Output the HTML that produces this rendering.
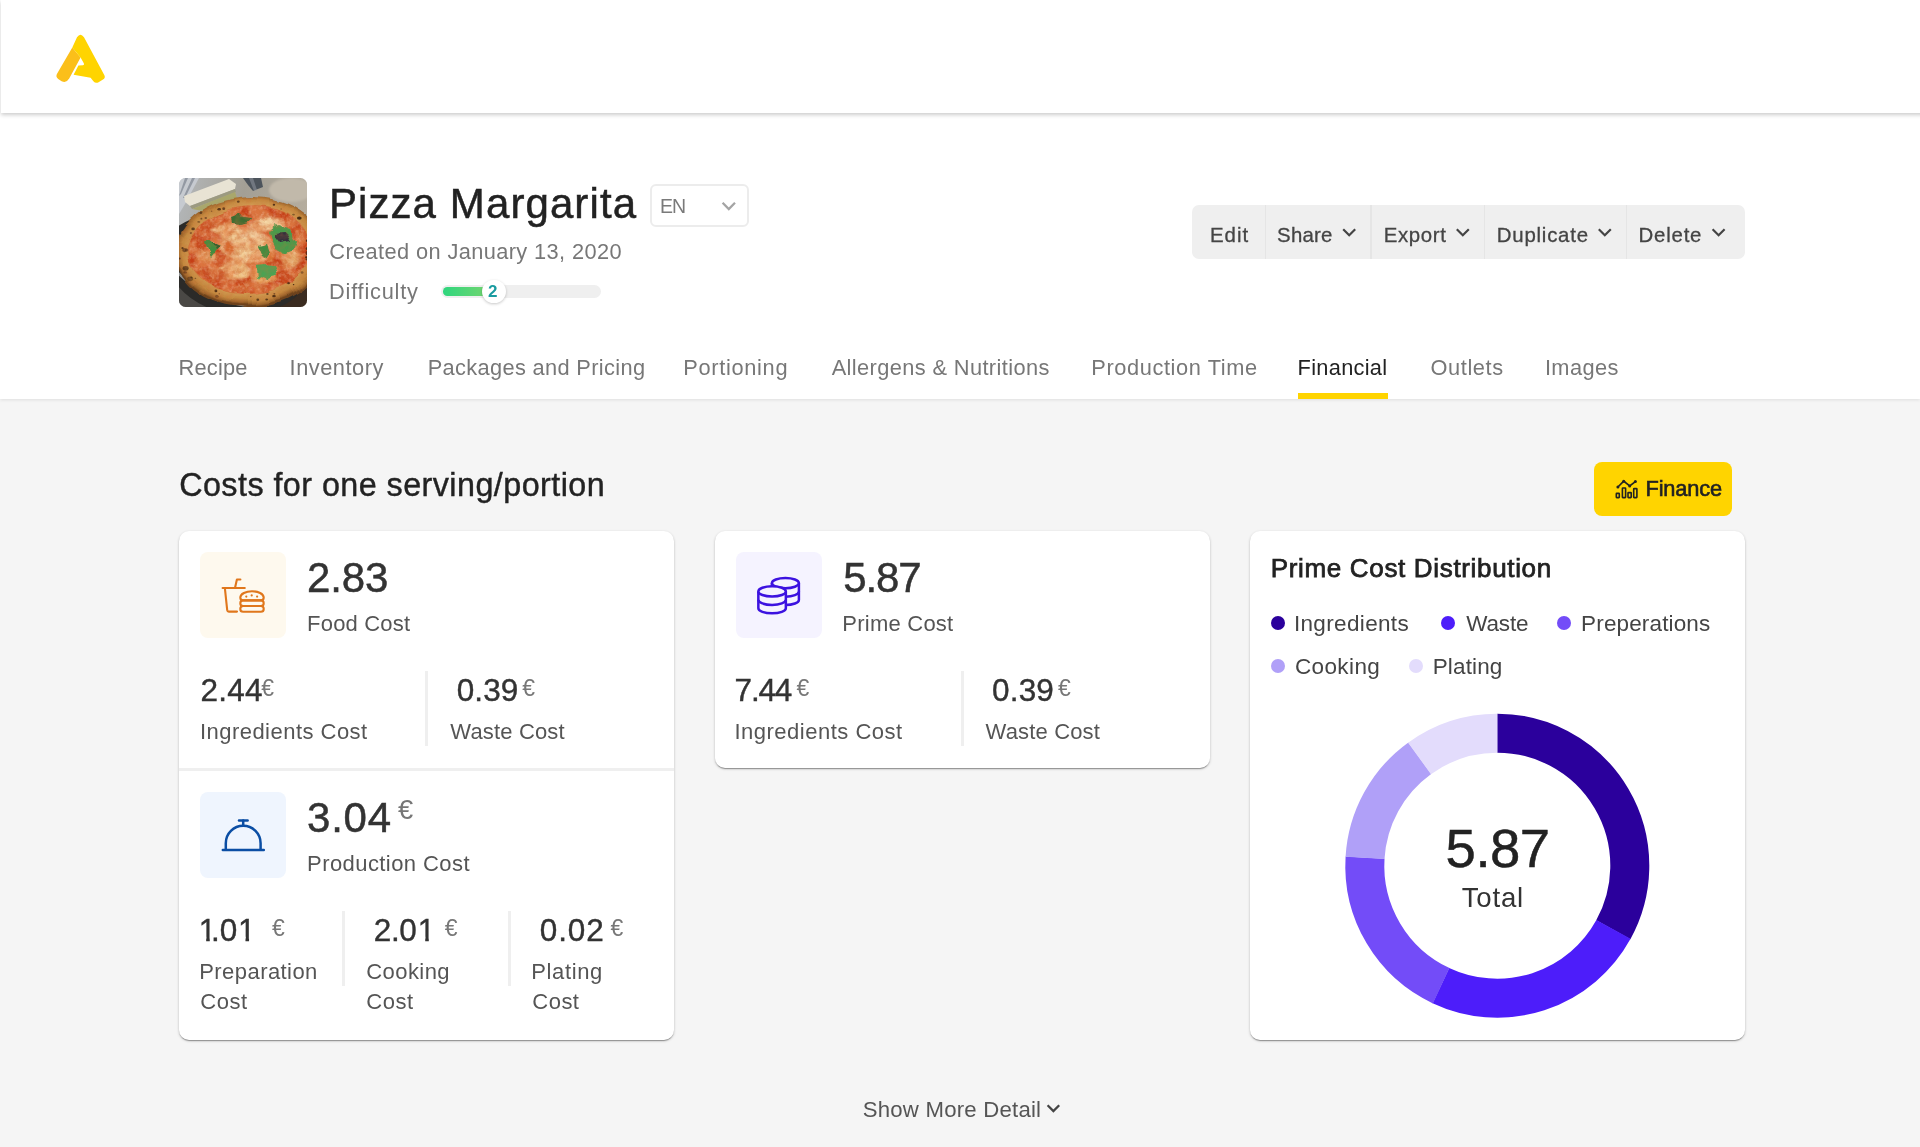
<!DOCTYPE html>
<html lang="en">
<head>
<meta charset="utf-8">
<title>Pizza Margarita – Financial</title>
<style>
html,body{margin:0;padding:0;}
body{width:1920px;height:1147px;position:relative;overflow:hidden;background:#f5f5f5;font-family:"Liberation Sans",sans-serif;}
.abs{position:absolute;}
.t{position:absolute;white-space:nowrap;line-height:1;}
.one{display:inline-block;clip-path:polygon(0.07em 0,0.352em 0,0.352em 100%,0.24em 100%,0.24em 0.69em,0.07em 0.69em);}
#txt{position:absolute;left:0;top:0;width:1920px;height:1147px;will-change:transform;}
#top{left:0;top:0;width:1920px;height:399px;background:#fff;box-shadow:0 1.5px 3px rgba(0,0,0,.075);}
#hdr{left:1px;top:0;width:1925px;height:113px;background:#fff;box-shadow:0 2px 4px rgba(0,0,0,.2);}
.card{position:absolute;background:#fff;border-radius:10px;box-shadow:0 2px 1px -1px rgba(0,0,0,.2),0 1px 1px 0 rgba(0,0,0,.14),0 1px 3px 0 rgba(0,0,0,.2);}
.ibox{position:absolute;width:86px;height:86px;border-radius:8px;}
.vd{position:absolute;width:3px;background:#efefef;}
.hd{position:absolute;height:3px;background:#efefef;}
.dot{position:absolute;width:14px;height:14px;border-radius:50%;}
svg{position:absolute;overflow:visible;}
</style>
</head>
<body>
<div id="top" class="abs"></div>
<div id="hdr" class="abs"></div>

<!-- logo -->
<svg style="left:0;top:0" width="160" height="113" viewBox="0 0 160 113">
  <path d="M72.3,47.6 L80.6,57.6 L69.2,78.6 Q66.2,83.6 61.6,81.2 L58.2,79 Q55.2,76.8 57.2,73.6 Z" fill="#fbbf1a"/>
  <path d="M77,37.2 Q80.4,32.2 84,37.2 L104.4,75.2 Q105.6,77.6 103.4,79.2 L98.6,82.2 Q95.6,83.8 93.4,81.2 L90.6,77.8 L73.6,74.7 L78.4,65.6 L83,65.2 Q84.8,64.8 83.8,63.2 L80.6,57.6 L72.3,47.6 Z" fill="#ffd400"/>
</svg>

<!-- pizza image -->
<svg style="left:179.2px;top:178px" width="128" height="129" viewBox="0 0 128 129">
  <defs>
    <clipPath id="pc"><rect x="0" y="0" width="128" height="129" rx="6.6" ry="6.6"/></clipPath>
    <clipPath id="pz"><ellipse cx="67" cy="71.5" rx="62" ry="43.5" transform="rotate(-3 68 72)"/></clipPath>
    <radialGradient id="crust" cx="50%" cy="48%" r="50%">
      <stop offset="0.80" stop-color="#d09a52"/><stop offset="0.90" stop-color="#c4893f"/><stop offset="0.97" stop-color="#9a622a"/><stop offset="1" stop-color="#6e431c"/>
    </radialGradient>
    <linearGradient id="bgg" x1="0" y1="0" x2="1" y2="0.25">
      <stop offset="0" stop-color="#b4b8bb"/><stop offset="0.5" stop-color="#a39f95"/><stop offset="1" stop-color="#b5ad9e"/>
    </linearGradient>
    <filter id="b1" x="-20%" y="-20%" width="140%" height="140%"><feGaussianBlur stdDeviation="1.2"/></filter>
    <filter id="b2" x="-20%" y="-20%" width="140%" height="140%"><feGaussianBlur stdDeviation="0.7"/></filter>
    <filter id="nz" x="0" y="0" width="100%" height="100%">
      <feTurbulence type="fractalNoise" baseFrequency="0.19" numOctaves="3" seed="7" result="n"/>
      <feColorMatrix in="n" type="matrix" values="0 0 0 0 0.62  0 0 0 0 0.16  0 0 0 0 0.04  1.8 0 0 0 -0.66" result="m"/>
      <feComposite in="m" in2="SourceGraphic" operator="in"/>
    </filter>
    <filter id="wob" x="-10%" y="-10%" width="120%" height="120%">
      <feTurbulence type="fractalNoise" baseFrequency="0.045" numOctaves="2" seed="5" result="t"/>
      <feDisplacementMap in="SourceGraphic" in2="t" scale="7" xChannelSelector="R" yChannelSelector="G"/>
    </filter>
    <filter id="wob2" x="-10%" y="-10%" width="120%" height="120%">
      <feTurbulence type="fractalNoise" baseFrequency="0.09" numOctaves="2" seed="9" result="t"/>
      <feDisplacementMap in="SourceGraphic" in2="t" scale="9" xChannelSelector="R" yChannelSelector="G"/>
      <feGaussianBlur stdDeviation="0.5"/>
    </filter>
    <filter id="nz3" x="0" y="0" width="100%" height="100%">
      <feTurbulence type="fractalNoise" baseFrequency="0.075" numOctaves="2" seed="21" result="n"/>
      <feColorMatrix in="n" type="matrix" values="0 0 0 0 0.80  0 0 0 0 0.27  0 0 0 0 0.09  0 0 4.5 0 -1.75" result="m"/>
      <feComposite in="m" in2="SourceGraphic" operator="in"/>
    </filter>
    <filter id="nz2" x="0" y="0" width="100%" height="100%">
      <feTurbulence type="fractalNoise" baseFrequency="0.27" numOctaves="2" seed="3" result="n"/>
      <feColorMatrix in="n" type="matrix" values="0 0 0 0 1  0 0 0 0 0.9  0 0 0 0 0.72  0 1.9 0 0 -0.78" result="m"/>
      <feComposite in="m" in2="SourceGraphic" operator="in"/>
    </filter>
  </defs>
  <g clip-path="url(#pc)">
    <rect width="128" height="129" fill="url(#bgg)"/>
    <ellipse cx="112" cy="12" rx="22" ry="12" fill="#c1b9aa" filter="url(#b1)"/>
    <!-- cloth top-left -->
    <path d="M0,0 L20,0 L6,26 L0,36 Z" fill="#c6cad0"/>
    <path d="M6,0 L9,0 L2,16 L0,18 Z M13,0 L16,0 L6,20 L4,20 Z" fill="#7d8590" opacity=".7"/>
    <!-- peel handle -->
    <path d="M5,18 L50,1 L57,6 L56,11 L11,28 L6,24 Z" fill="#e8e3d4"/>
    <path d="M11,28 L56,11 L57,14 L13,31 Z" fill="#9c9a80"/>
    <path d="M13,31 L56,14 L58,20 L24,33 Z" fill="#a9a76c"/>
    <path d="M24,33 L58,20 L62,24 L32,36 Z" fill="#c2c1b8"/>
    <!-- dark object top -->
    <path d="M64,0 L82,0 L84,9 L74,13 L69,7 Z" fill="#4d545c"/>
    <path d="M70,0 L74,0 L78,12 L75,13 Z" fill="#8a9098" opacity=".6"/>
    <!-- plate -->
    <ellipse cx="60" cy="84" rx="84" ry="52" fill="#2b2a28"/>
    <path d="M-4,92 Q30,128 96,131" fill="none" stroke="#8f908e" stroke-width="2.4"/>
    <path d="M-4,104 Q10,124 40,134 L-4,134 Z" fill="#4a4845"/>
    <path d="M96,131 Q120,122 132,100 L132,134 Z" fill="#3a2b20"/>
    <g filter="url(#wob)" transform="translate(3.5,0.5)">
    <!-- crust -->
    <ellipse cx="67" cy="73.5" rx="75" ry="55" fill="url(#crust)" transform="rotate(-3 68 72)"/>
    <!-- sauce -->
    <ellipse cx="67" cy="71.5" rx="62" ry="43.5" fill="#c63d15" filter="url(#b2)" transform="rotate(-3 68 72)"/>
    <g clip-path="url(#pz)">
      <g filter="url(#b1)">
        <ellipse cx="64" cy="68" rx="27" ry="17" fill="#f3cf98"/>
        <ellipse cx="84" cy="46" rx="18" ry="7" fill="#f5d6a4"/>
        <ellipse cx="44" cy="52" rx="16" ry="7" fill="#eebf84"/>
        <ellipse cx="52" cy="92" rx="16" ry="9" fill="#f0c486"/>
        <ellipse cx="84" cy="96" rx="16" ry="9" fill="#eaa860"/>
        <ellipse cx="108" cy="78" rx="10" ry="12" fill="#e9b474"/>
        <ellipse cx="24" cy="78" rx="10" ry="6" fill="#e6a768"/>
        <ellipse cx="70" cy="58" rx="12" ry="5" fill="#f6dcae"/>
        <ellipse cx="28" cy="58" rx="12" ry="7" fill="#c63f1a"/>
        <ellipse cx="104" cy="56" rx="12" ry="8" fill="#c8431b"/>
        <ellipse cx="34" cy="96" rx="12" ry="6" fill="#c23c19"/>
        <ellipse cx="106" cy="96" rx="12" ry="8" fill="#c9441b"/>
        <ellipse cx="60" cy="42" rx="12" ry="5" fill="#c9451c"/>
        <ellipse cx="70" cy="108" rx="14" ry="5" fill="#cc4a1d"/>
        <ellipse cx="46" cy="70" rx="6" ry="8" fill="#d9692e"/>
        <ellipse cx="86" cy="76" rx="5" ry="7" fill="#dd7434"/>
      </g>
      <rect width="128" height="129" fill="#fff" filter="url(#nz3)" opacity=".7"/>
      <rect width="128" height="129" fill="#fff" filter="url(#nz)" opacity=".75"/>
      <rect width="128" height="129" fill="#fff" filter="url(#nz2)" opacity=".36"/>
    </g>
    </g>
    <!-- basil -->
    <g filter="url(#wob2)">
      <path d="M52,41 L60,38 L72,40 L70,44 L60,46 L53,45 Z" fill="#3d6d33"/>
      <path d="M26,64 L33,62 L42,66 L36,74 L32,79 L28,72 Z" fill="#418e3f"/>
      <path d="M34,63 L42,66 L38,70 Z" fill="#2d5a2d"/>
      <path d="M90,54 L98,47 L112,52 L117,64 L114,72 L104,76 L96,70 L92,62 Z" fill="#4a9a4c"/>
      <path d="M94,56 L108,55 L112,62 L100,64 Z" fill="#35303c"/>
      <path d="M79,68 L88,66 L91,74 L88,82 L84,80 Z" fill="#3f8c40"/>
      <path d="M77,87 L86,86 L95,87 L98,99 L88,101 L80,98 L78,102 Z" fill="#4ea252"/>
    </g>
    <!-- char spots -->
    <g fill="#3a2210" filter="url(#b2)">
      <ellipse cx="6.6" cy="90.3" rx="3.0" ry="2.4" opacity="0.70"/><ellipse cx="14.1" cy="50.9" rx="1.8" ry="1.4" opacity="0.76"/><ellipse cx="95.3" cy="115.8" rx="1.0" ry="0.6" opacity="0.85"/><ellipse cx="44.7" cy="30.7" rx="1.4" ry="1.4" opacity="0.78"/><ellipse cx="20.4" cy="44.0" rx="0.8" ry="0.7" opacity="0.48"/><ellipse cx="134.7" cy="80.4" rx="1.8" ry="1.1" opacity="0.68"/><ellipse cx="6.2" cy="94.4" rx="1.8" ry="1.2" opacity="0.60"/><ellipse cx="128.9" cy="70.6" rx="2.4" ry="1.7" opacity="0.95"/><ellipse cx="135.4" cy="67.6" rx="2.4" ry="1.7" opacity="0.83"/><ellipse cx="7.6" cy="72.0" rx="1.8" ry="1.6" opacity="0.65"/><ellipse cx="102.1" cy="31.1" rx="0.8" ry="0.8" opacity="0.45"/><ellipse cx="87.7" cy="121.5" rx="1.4" ry="1.1" opacity="0.80"/><ellipse cx="12.3" cy="99.3" rx="1.0" ry="0.9" opacity="0.58"/><ellipse cx="123.1" cy="94.5" rx="1.4" ry="1.3" opacity="0.51"/><ellipse cx="71.8" cy="118.6" rx="0.8" ry="0.6" opacity="0.69"/><ellipse cx="40.2" cy="31.3" rx="1.8" ry="1.2" opacity="0.82"/><ellipse cx="114.6" cy="106.6" rx="0.8" ry="0.6" opacity="0.95"/><ellipse cx="135.7" cy="69.1" rx="3.0" ry="2.5" opacity="0.95"/><ellipse cx="129.6" cy="75.0" rx="3.0" ry="2.5" opacity="0.74"/><ellipse cx="127.9" cy="81.6" rx="1.4" ry="1.0" opacity="0.84"/><ellipse cx="40.3" cy="115.8" rx="0.8" ry="0.5" opacity="0.55"/><ellipse cx="26.8" cy="40.0" rx="1.2" ry="0.9" opacity="0.68"/><ellipse cx="129.6" cy="56.9" rx="1.8" ry="1.2" opacity="0.64"/><ellipse cx="22.4" cy="40.7" rx="1.0" ry="0.9" opacity="0.57"/><ellipse cx="95.0" cy="118.1" rx="1.8" ry="1.2" opacity="0.93"/><ellipse cx="114.5" cy="36.6" rx="1.4" ry="0.9" opacity="0.50"/><ellipse cx="5.6" cy="72.1" rx="2.4" ry="2.1" opacity="0.58"/><ellipse cx="94.9" cy="26.7" rx="1.2" ry="1.0" opacity="0.91"/><ellipse cx="128.2" cy="62.7" rx="1.4" ry="1.2" opacity="0.88"/><ellipse cx="19.3" cy="43.8" rx="1.0" ry="0.9" opacity="0.48"/><ellipse cx="16.4" cy="100.2" rx="0.8" ry="0.5" opacity="0.63"/><ellipse cx="11.9" cy="55.1" rx="1.2" ry="0.8" opacity="0.68"/><ellipse cx="37.9" cy="118.2" rx="1.8" ry="1.5" opacity="0.52"/><ellipse cx="127.3" cy="79.4" rx="1.2" ry="1.1" opacity="0.93"/><ellipse cx="133.4" cy="75.7" rx="1.4" ry="0.9" opacity="0.61"/><ellipse cx="109.5" cy="105.2" rx="1.4" ry="1.1" opacity="0.82"/><ellipse cx="120.3" cy="40.1" rx="2.4" ry="1.6" opacity="0.93"/><ellipse cx="36.9" cy="112.9" rx="1.4" ry="1.3" opacity="0.89"/><ellipse cx="11.2" cy="100.8" rx="3.0" ry="2.4" opacity="0.46"/><ellipse cx="32.6" cy="33.3" rx="0.8" ry="0.7" opacity="0.49"/><ellipse cx="21.9" cy="34.8" rx="1.4" ry="1.2" opacity="0.64"/><ellipse cx="59.3" cy="23.7" rx="1.4" ry="1.1" opacity="0.72"/><ellipse cx="3.5" cy="70.1" rx="1.2" ry="1.0" opacity="0.69"/><ellipse cx="78.8" cy="121.8" rx="1.4" ry="1.3" opacity="0.78"/><ellipse cx="0.5" cy="80.5" rx="1.2" ry="0.9" opacity="0.79"/><ellipse cx="88.4" cy="116.1" rx="1.2" ry="1.0" opacity="0.67"/>
    </g>
    <ellipse cx="68" cy="72.5" rx="70" ry="53" fill="#a0703a" transform="rotate(-3 68 72)" filter="url(#nz)" opacity=".35"/>
  </g>
</svg>


<!-- EN select -->
<div class="abs" style="left:650.3px;top:183.8px;width:94.8px;height:38.8px;border:2px solid #ececec;border-radius:6px;box-sizing:content-box;"></div>
<svg style="left:720px;top:198px" width="18" height="16" viewBox="0 0 18 16"><path d="M2.6,4.8 L8.8,11 L15,4.8" fill="none" stroke="#a4a4a4" stroke-width="2.3"/></svg>

<!-- difficulty slider -->
<div class="abs" style="left:440.5px;top:284.6px;width:160.3px;height:13.3px;border-radius:6.65px;background:#efefef;"></div>
<div class="abs" style="left:442.5px;top:287px;width:52px;height:8.5px;border-radius:4.25px;background:linear-gradient(90deg,#2fd67e,#7dd56e);"></div>
<div class="abs" style="left:482px;top:279.7px;width:23.6px;height:23.6px;border-radius:50%;background:#fff;box-shadow:0 1px 3px rgba(0,0,0,.22);"></div>

<!-- button group -->
<div class="abs" style="left:1192px;top:205px;width:553px;height:54px;border-radius:7px;background:#efefef;"></div>
<div class="abs" style="left:1264.7px;top:205px;width:1.2px;height:54px;background:#e5e5e5;"></div>
<div class="abs" style="left:1370.4px;top:205px;width:1.2px;height:54px;background:#e5e5e5;"></div>
<div class="abs" style="left:1484px;top:205px;width:1.2px;height:54px;background:#e5e5e5;"></div>
<div class="abs" style="left:1626.2px;top:205px;width:1.2px;height:54px;background:#e5e5e5;"></div>
<svg style="left:0;top:0" width="1920" height="300" viewBox="0 0 1920 300" fill="none" stroke="#444" stroke-width="2.2">
  <path d="M1343.2,229.2 L1349.2,235.2 L1355.2,229.2"/>
  <path d="M1456.8,229.2 L1462.8,235.2 L1468.8,229.2"/>
  <path d="M1598.8,229.2 L1604.8,235.2 L1610.8,229.2"/>
  <path d="M1712.6,229.2 L1718.6,235.2 L1724.6,229.2"/>
</svg>

<!-- active tab underline -->
<div class="abs" style="left:1298px;top:393.4px;width:90px;height:5.6px;background:#ffd400;"></div>

<!-- finance button -->
<div class="abs" style="left:1594.4px;top:462px;width:137.8px;height:54px;border-radius:8px;background:#ffd400;"></div>
<svg style="left:1614px;top:478px" width="26" height="22" viewBox="1614 478 26 22" fill="none" stroke="#222" stroke-width="1.6">
  <rect x="1616.3" y="493.4" width="3" height="4.2" rx=".5"/>
  <rect x="1622.4" y="488" width="3.2" height="9.6" rx=".5"/>
  <rect x="1628" y="492.6" width="3.2" height="5" rx=".5"/>
  <rect x="1633.7" y="488.6" width="3.2" height="9" rx=".5"/>
  <path d="M1617.9,487 L1623.7,481.2 L1629.7,486 L1635.4,481.6" stroke-width="1.7"/>
  <g fill="#222" stroke="none"><circle cx="1617.9" cy="487" r="1.5"/><circle cx="1623.7" cy="481.2" r="1.5"/><circle cx="1629.7" cy="486" r="1.5"/><circle cx="1635.4" cy="481.6" r="1.5"/></g>
</svg>

<!-- cards -->
<div class="card" style="left:179px;top:531px;width:495.1px;height:508.6px;"></div>
<div class="card" style="left:714.5px;top:531px;width:495.2px;height:236.8px;"></div>
<div class="card" style="left:1250px;top:531px;width:495px;height:508.6px;"></div>

<!-- card 1 -->
<div class="ibox" style="left:200px;top:552.3px;background:#fef9ee;"></div>
<svg style="left:200px;top:552.3px" width="86" height="86" viewBox="0 0 86 86" fill="none" stroke="#e0771c" stroke-width="2.1" stroke-linecap="round" stroke-linejoin="round">
  <path d="M22.6,36 L44.8,36"/>
  <path d="M35.1,35.6 L36.9,27.5 L40.4,27.5"/>
  <path d="M24.9,36.4 L27.2,58.2 Q27.4,59.6 28.8,59.6 L37,59.6"/>
  <path d="M40.3,45.6 C40.3,41.6 46,39.3 52,39.3 C58,39.3 63.7,41.6 63.7,45.6 C63.7,47.4 62.6,48.4 61,48.4 L43,48.4 C41.4,48.4 40.3,47.4 40.3,45.6 Z"/>
  <rect x="40.3" y="48.4" width="23.4" height="5.6" rx="2.8"/>
  <rect x="40.3" y="54" width="23.4" height="5.7" rx="2.8"/>
  <g fill="#e0771c" stroke="none"><circle cx="46.3" cy="44.6" r="1.1"/><circle cx="51.7" cy="43.4" r="1.1"/><circle cx="57.1" cy="44.6" r="1.1"/></g>
</svg>
<div class="vd" style="left:425.3px;top:670.8px;height:74.8px;"></div>
<div class="hd" style="left:179px;top:767.8px;width:495.1px;"></div>
<div class="ibox" style="left:200px;top:792px;background:#eff5fe;"></div>
<svg style="left:200px;top:792px" width="86" height="86" viewBox="0 0 86 86" fill="none" stroke="#0b4ea4" stroke-width="2.5" stroke-linecap="round">
  <path d="M22.8,57.9 L63.8,57.9"/>
  <path d="M25.8,57.5 L25.8,51.2 A17.4,17.4 0 0 1 60.6,51.2 L60.6,57.5"/>
  <path d="M43.2,33.6 L43.2,28.6"/>
  <path d="M39,28.4 L47.6,28.4"/>
</svg>
<div class="vd" style="left:342px;top:910.8px;height:74.8px;"></div>
<div class="vd" style="left:508.2px;top:910.8px;height:74.8px;"></div>

<!-- card 2 -->
<div class="ibox" style="left:736px;top:552.3px;background:#f5f3ff;"></div>
<svg style="left:736px;top:552.3px" width="86" height="86" viewBox="0 0 86 86" fill="none" stroke="#3c12e0" stroke-width="2.5">
  <g>
    <path d="M35.9,31.1 L35.9,47.9 A13.5,5.15 0 0 0 62.9,47.9 L62.9,31.1" fill="#f5f3ff"/>
    <path d="M35.9,39.5 A13.5,5.15 0 0 0 62.9,39.5"/>
    <ellipse cx="49.4" cy="31.1" rx="13.5" ry="5.15" fill="#f5f3ff"/>
  </g>
  <g>
    <path d="M22.35,39.4 L22.35,56.2 A13.75,5.15 0 0 0 49.85,56.2 L49.85,39.4" fill="#f5f3ff"/>
    <path d="M22.35,47.8 A13.75,5.15 0 0 0 49.85,47.8"/>
    <ellipse cx="36.1" cy="39.4" rx="13.75" ry="5.15" fill="#f5f3ff"/>
  </g>
</svg>
<div class="vd" style="left:960.8px;top:670.8px;height:74.8px;"></div>

<!-- card 3 legend dots -->
<div class="dot" style="left:1271px;top:615.6px;background:#2b009c;"></div>
<div class="dot" style="left:1441px;top:615.6px;background:#4d1dfa;"></div>
<div class="dot" style="left:1557.4px;top:615.6px;background:#734cf8;"></div>
<div class="dot" style="left:1271px;top:658.7px;background:#b0a0f8;"></div>
<div class="dot" style="left:1409.1px;top:658.7px;background:#e3dcfc;"></div>

<!-- donut -->
<svg style="left:0;top:0" width="1920" height="1147" viewBox="0 0 1920 1147">
<path d="M1497.30,733.20 A132.5,132.5 0 0 1 1613.30,929.73" fill="none" stroke="#2b009c" stroke-width="39"/>
<path d="M1613.47,929.43 A132.5,132.5 0 0 1 1440.88,985.59" fill="none" stroke="#4d1dfa" stroke-width="39"/>
<path d="M1441.20,985.74 A132.5,132.5 0 0 1 1365.05,857.61" fill="none" stroke="#734cf8" stroke-width="39"/>
<path d="M1365.03,857.96 A132.5,132.5 0 0 1 1419.79,758.23" fill="none" stroke="#b0a0f8" stroke-width="39"/>
<path d="M1419.51,758.44 A132.5,132.5 0 0 1 1497.30,733.20" fill="none" stroke="#e3dcfc" stroke-width="39"/>
</svg>

<!-- show more chevron -->
<svg style="left:1044px;top:1100px" width="20" height="16" viewBox="1044 1100 20 16"><path d="M1047.6,1105.2 L1053.4,1111 L1059.2,1105.2" fill="none" stroke="#444" stroke-width="2.3"/></svg>

<!-- texts -->
<div id="txt">
<span class="t" style="left:328.90px;top:183px;font-size:42px;color:#222;letter-spacing:1.096px;-webkit-text-stroke:0.5px #222;">Pizza Margarita</span>
<span class="t" style="left:659.90px;top:197px;font-size:19.5px;color:#7a7a7a;letter-spacing:-0.900px;">EN</span>
<span class="t" style="left:329.30px;top:241px;font-size:21.8px;color:#777777;letter-spacing:0.383px;">Created on January 13, 2020</span>
<span class="t" style="left:329.00px;top:281px;font-size:21.8px;color:#777777;letter-spacing:0.778px;">Difficulty</span>
<span class="t" style="left:487.90px;top:283px;font-size:17px;color:#1a9ba0;font-weight:700;">2</span>
<span class="t" style="left:1209.90px;top:225px;font-size:20.4px;color:#444;letter-spacing:1.033px;-webkit-text-stroke:0.3px #444;">Edit</span>
<span class="t" style="left:1277.10px;top:225px;font-size:20.4px;color:#444;letter-spacing:0.200px;-webkit-text-stroke:0.3px #444;">Share</span>
<span class="t" style="left:1383.70px;top:225px;font-size:20.4px;color:#444;letter-spacing:0.660px;-webkit-text-stroke:0.3px #444;">Export</span>
<span class="t" style="left:1496.80px;top:225px;font-size:20.4px;color:#444;letter-spacing:0.775px;-webkit-text-stroke:0.3px #444;">Duplicate</span>
<span class="t" style="left:1638.50px;top:225px;font-size:20.4px;color:#444;letter-spacing:0.800px;-webkit-text-stroke:0.3px #444;">Delete</span>
<span class="t" style="left:178.60px;top:357px;font-size:21.8px;color:#777777;letter-spacing:0.200px;">Recipe</span>
<span class="t" style="left:289.60px;top:357px;font-size:21.8px;color:#777777;letter-spacing:0.519px;">Inventory</span>
<span class="t" style="left:427.70px;top:357px;font-size:21.8px;color:#777777;letter-spacing:0.342px;">Packages and Pricing</span>
<span class="t" style="left:683.20px;top:357px;font-size:21.8px;color:#777777;letter-spacing:0.689px;">Portioning</span>
<span class="t" style="left:831.70px;top:357px;font-size:21.8px;color:#777777;letter-spacing:0.383px;">Allergens &amp; Nutritions</span>
<span class="t" style="left:1091.30px;top:357px;font-size:21.8px;color:#777777;letter-spacing:0.593px;">Production Time</span>
<span class="t" style="left:1297.60px;top:357px;font-size:21.8px;color:#222;letter-spacing:0.288px;">Financial</span>
<span class="t" style="left:1430.60px;top:357px;font-size:21.8px;color:#777777;letter-spacing:0.567px;">Outlets</span>
<span class="t" style="left:1544.90px;top:357px;font-size:21.8px;color:#777777;letter-spacing:0.420px;">Images</span>
<span class="t" style="left:179.20px;top:469px;font-size:32.3px;color:#222;letter-spacing:0.450px;-webkit-text-stroke:0.4px #222;">Costs for one serving/portion</span>
<span class="t" style="left:1645.50px;top:478px;font-size:21.8px;color:#222;letter-spacing:-0.150px;-webkit-text-stroke:0.6px #222;">Finance</span>
<span class="t" style="left:306.95px;top:557px;font-size:42px;color:#333;letter-spacing:-0.117px;-webkit-text-stroke:0.5px #333;">2.83</span>
<span class="t" style="left:307.10px;top:613px;font-size:22px;color:#555;letter-spacing:0.188px;">Food Cost</span>
<span class="t" style="left:200.44px;top:675px;font-size:31.5px;color:#333;letter-spacing:0.220px;-webkit-text-stroke:0.4px #333;">2.44</span>
<span class="t" style="left:261.30px;top:677px;font-size:23px;color:#777777;">€</span>
<span class="t" style="left:199.90px;top:721px;font-size:22px;color:#555;letter-spacing:0.473px;">Ingredients Cost</span>
<span class="t" style="left:456.70px;top:675px;font-size:31.5px;color:#333;letter-spacing:0.100px;-webkit-text-stroke:0.4px #333;">0.39</span>
<span class="t" style="left:522.20px;top:677px;font-size:23px;color:#777777;">€</span>
<span class="t" style="left:450.30px;top:721px;font-size:22px;color:#555;letter-spacing:0.156px;">Waste Cost</span>
<span class="t" style="left:307.10px;top:797px;font-size:42px;color:#333;letter-spacing:0.733px;-webkit-text-stroke:0.5px #333;">3.04</span>
<span class="t" style="left:398.00px;top:796px;font-size:27.3px;color:#777777;">€</span>
<span class="t" style="left:307.10px;top:853px;font-size:22px;color:#555;letter-spacing:0.421px;">Production Cost</span>
<span class="t" style="left:198.65px;top:915px;font-size:31.5px;color:#333;letter-spacing:0px;-webkit-text-stroke:0.4px #333;"><span class="one" style="margin-right:-5.2px">1</span>.0<span class="one" style="margin-left:0.7px">1</span></span>
<span class="t" style="left:271.90px;top:917px;font-size:23px;color:#777777;">€</span>
<span class="t" style="left:199.25px;top:961px;font-size:22px;color:#555;letter-spacing:0.435px;">Preparation</span>
<span class="t" style="left:200.25px;top:991px;font-size:22px;color:#555;letter-spacing:0.550px;">Cost</span>
<span class="t" style="left:373.70px;top:915px;font-size:31.5px;color:#333;letter-spacing:-0.3px;-webkit-text-stroke:0.4px #333;">2.0<span class="one" style="margin-left:1.1px">1</span></span>
<span class="t" style="left:444.70px;top:917px;font-size:23px;color:#777777;">€</span>
<span class="t" style="left:366.20px;top:961px;font-size:22px;color:#555;letter-spacing:0.450px;">Cooking</span>
<span class="t" style="left:366.20px;top:991px;font-size:22px;color:#555;letter-spacing:0.600px;">Cost</span>
<span class="t" style="left:539.80px;top:915px;font-size:31.5px;color:#333;letter-spacing:0.900px;-webkit-text-stroke:0.4px #333;">0.02</span>
<span class="t" style="left:610.60px;top:917px;font-size:23px;color:#777777;">€</span>
<span class="t" style="left:531.30px;top:961px;font-size:22px;color:#555;letter-spacing:0.617px;">Plating</span>
<span class="t" style="left:532.30px;top:991px;font-size:22px;color:#555;letter-spacing:0.483px;">Cost</span>
<span class="t" style="left:843.20px;top:557px;font-size:42px;color:#333;letter-spacing:-1.133px;-webkit-text-stroke:0.5px #333;">5.87</span>
<span class="t" style="left:842.30px;top:613px;font-size:22px;color:#555;letter-spacing:0.233px;">Prime Cost</span>
<span class="t" style="left:734.60px;top:675px;font-size:31.5px;color:#333;letter-spacing:-1.233px;-webkit-text-stroke:0.4px #333;">7.44</span>
<span class="t" style="left:796.60px;top:677px;font-size:23px;color:#777777;">€</span>
<span class="t" style="left:734.40px;top:721px;font-size:22px;color:#555;letter-spacing:0.507px;">Ingredients Cost</span>
<span class="t" style="left:992.10px;top:675px;font-size:31.5px;color:#333;letter-spacing:0.133px;-webkit-text-stroke:0.4px #333;">0.39</span>
<span class="t" style="left:1058.00px;top:677px;font-size:23px;color:#777777;">€</span>
<span class="t" style="left:985.60px;top:721px;font-size:22px;color:#555;letter-spacing:0.156px;">Waste Cost</span>
<span class="t" style="left:1270.80px;top:555px;font-size:26px;color:#222;letter-spacing:0.659px;-webkit-text-stroke:0.75px #222;">Prime Cost Distribution</span>
<span class="t" style="left:1293.90px;top:613px;font-size:22.5px;color:#444;letter-spacing:0.350px;">Ingredients</span>
<span class="t" style="left:1466.25px;top:613px;font-size:22.5px;color:#444;letter-spacing:-0.147px;">Waste</span>
<span class="t" style="left:1581.10px;top:613px;font-size:22.5px;color:#444;letter-spacing:0.145px;">Preperations</span>
<span class="t" style="left:1294.90px;top:656px;font-size:22.5px;color:#444;letter-spacing:0.400px;">Cooking</span>
<span class="t" style="left:1432.70px;top:656px;font-size:22.5px;color:#444;letter-spacing:0.150px;">Plating</span>
<span class="t" style="left:1445.60px;top:822px;font-size:54.5px;color:#222;letter-spacing:-0.500px;-webkit-text-stroke:0.5px #222;">5.87</span>
<span class="t" style="left:1461.80px;top:884px;font-size:27.6px;color:#333;letter-spacing:0.762px;">Total</span>
<span class="t" style="left:862.75px;top:1099px;font-size:22.2px;color:#555;letter-spacing:0.210px;">Show More Detail</span>
</div>
</body>
</html>
